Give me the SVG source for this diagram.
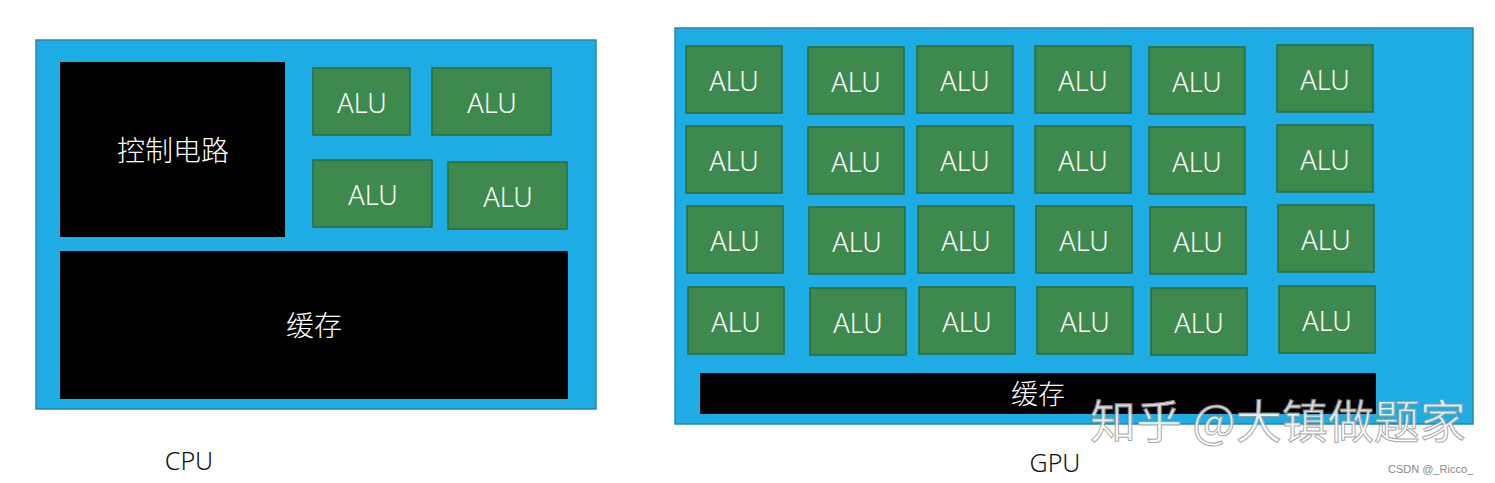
<svg xmlns="http://www.w3.org/2000/svg" width="1495" height="483" viewBox="0 0 1495 483">
<style>
.chip{fill:#1DACE4;stroke:#2A86A8;stroke-width:1.5}
.alu{fill:#3E8A4E;stroke:#2E6B3B;stroke-width:1.5}
.blk{fill:#000}
.t{font-family:"Noto Sans","Noto Sans CJK SC",sans-serif;fill:#fff;text-anchor:middle;dominant-baseline:central;font-weight:300}
.a{font-size:27px}
.c{font-size:28px}
.lbl{font-family:"Noto Sans",sans-serif;font-size:25px;fill:#111;text-anchor:middle;font-weight:300}
</style>
<rect width="1495" height="483" fill="#fff"/>
<g id="cpu">
<rect class="chip" x="36" y="40" width="560" height="369"/>
<g id="cpu-ctrl"><rect class="blk" x="60" y="62" width="225" height="175"/><text class="t c" x="173" y="150">控制电路</text></g>
<g id="cpu-alu1"><rect class="alu" x="313" y="68" width="97" height="67"/><text class="t a" x="362" y="102">ALU</text></g>
<g id="cpu-alu2"><rect class="alu" x="432" y="68" width="119" height="67"/><text class="t a" x="492" y="102">ALU</text></g>
<g id="cpu-alu3"><rect class="alu" x="313" y="160" width="119" height="67"/><text class="t a" x="373" y="194">ALU</text></g>
<g id="cpu-alu4"><rect class="alu" x="448" y="162" width="119" height="67"/><text class="t a" x="508" y="196">ALU</text></g>
<g id="cpu-cache"><rect class="blk" x="60" y="251" width="508" height="148"/><text class="t c" x="314" y="325">缓存</text></g>
</g>
<text class="lbl" x="189" y="470">CPU</text>
<g id="gpu">
<rect class="chip" x="675" y="28" width="798" height="396"/>
<g id="gpu-alus">
<g id="r1">
<rect class="alu" x="686" y="46" width="96" height="67"/><text class="t a" x="734" y="80">ALU</text>
<rect class="alu" x="808" y="47" width="96" height="67"/><text class="t a" x="856" y="81">ALU</text>
<rect class="alu" x="917" y="46" width="96" height="67"/><text class="t a" x="965" y="80">ALU</text>
<rect class="alu" x="1035" y="46" width="96" height="67"/><text class="t a" x="1083" y="80">ALU</text>
<rect class="alu" x="1149" y="47" width="96" height="67"/><text class="t a" x="1197" y="81">ALU</text>
<rect class="alu" x="1277" y="45" width="96" height="67"/><text class="t a" x="1325" y="79">ALU</text>
</g>
<g id="r2">
<rect class="alu" x="686" y="126" width="96" height="67"/><text class="t a" x="734" y="160">ALU</text>
<rect class="alu" x="808" y="127" width="96" height="67"/><text class="t a" x="856" y="161">ALU</text>
<rect class="alu" x="917" y="126" width="96" height="67"/><text class="t a" x="965" y="160">ALU</text>
<rect class="alu" x="1035" y="126" width="96" height="67"/><text class="t a" x="1083" y="160">ALU</text>
<rect class="alu" x="1149" y="127" width="96" height="67"/><text class="t a" x="1197" y="161">ALU</text>
<rect class="alu" x="1277" y="125" width="96" height="67"/><text class="t a" x="1325" y="159">ALU</text>
</g>
<g id="r3">
<rect class="alu" x="687" y="206" width="96" height="67"/><text class="t a" x="735" y="240">ALU</text>
<rect class="alu" x="809" y="207" width="96" height="67"/><text class="t a" x="857" y="241">ALU</text>
<rect class="alu" x="918" y="206" width="96" height="67"/><text class="t a" x="966" y="240">ALU</text>
<rect class="alu" x="1036" y="206" width="96" height="67"/><text class="t a" x="1084" y="240">ALU</text>
<rect class="alu" x="1150" y="207" width="96" height="67"/><text class="t a" x="1198" y="241">ALU</text>
<rect class="alu" x="1278" y="205" width="96" height="67"/><text class="t a" x="1326" y="239">ALU</text>
</g>
<g id="r4">
<rect class="alu" x="688" y="287" width="96" height="67"/><text class="t a" x="736" y="321">ALU</text>
<rect class="alu" x="810" y="288" width="96" height="67"/><text class="t a" x="858" y="322">ALU</text>
<rect class="alu" x="919" y="287" width="96" height="67"/><text class="t a" x="967" y="321">ALU</text>
<rect class="alu" x="1037" y="287" width="96" height="67"/><text class="t a" x="1085" y="321">ALU</text>
<rect class="alu" x="1151" y="288" width="96" height="67"/><text class="t a" x="1199" y="322">ALU</text>
<rect class="alu" x="1279" y="286" width="96" height="67"/><text class="t a" x="1327" y="320">ALU</text>
</g>
</g>
<g id="gpu-cache"><rect class="blk" x="700" y="373" width="676" height="41"/><text class="t" style="font-size:27px" x="1038" y="393">缓存</text></g>
</g>
<text class="lbl" x="1055" y="472">GPU</text>
<text x="1090" y="438" style="font-family:'Noto Sans CJK SC',sans-serif;font-size:46px;fill:#fff;stroke:#999;stroke-width:1;opacity:0.85">知乎 @大镇做题家</text>
<text x="1388" y="473" style="font-family:'Liberation Sans',sans-serif;font-size:11px;fill:#888">CSDN @_Ricco_</text>
</svg>
